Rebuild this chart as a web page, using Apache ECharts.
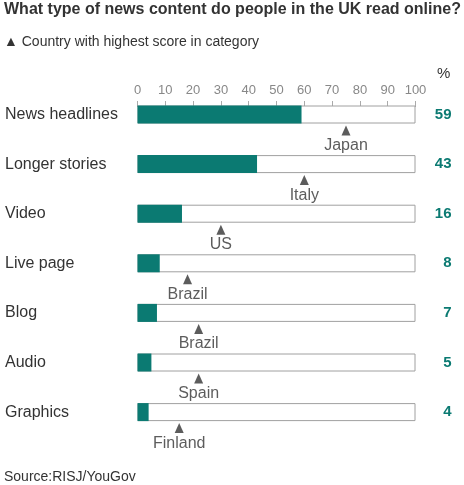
<!DOCTYPE html>
<html><head><meta charset="utf-8">
<script src="https://cdn.jsdelivr.net/npm/echarts@6/dist/echarts.min.js"></script>
<style>html,body{margin:0;padding:0;background:#fff}#c{width:464px;height:485px}</style>
</head><body><div id="c"></div>
<script>
const categories = ['News headlines','Longer stories','Video','Live page','Blog','Audio','Graphics'];
const ukValues = [59,43,16,8,7,5,4];
const topCountries = ['Japan','Italy','US','Brazil','Brazil','Spain','Finland'];
const topScores = [75,60,30,18,22,22,15];
const tickLabels = [0,10,20,30,40,50,60,70,80,90,100];

const TEAL = '#0b7a72';
const chart = echarts.init(document.getElementById('c'), null, {renderer:'canvas'});
const F = 'Liberation Sans, Arial, sans-serif';
chart.setOption({
  animation:false,
  textStyle:{fontFamily:F},
  title:[
    {text:'What type of news content do people in the UK read online?',left:4,top:2,padding:0,
     textStyle:{fontSize:16,fontWeight:'bold',color:'#333',fontFamily:F}},
    {text:'\u25B2 Country with highest score in category',left:4,top:35,padding:0,
     textStyle:{fontSize:14,fontWeight:'normal',color:'#333',fontFamily:F}},
    {text:'Source:RISJ/YouGov',left:4,top:470,padding:0,
     textStyle:{fontSize:14,fontWeight:'normal',color:'#333',fontFamily:F}}
  ],
  graphic:[{type:'text',left:437,top:66,style:{text:'%',fontSize:15,fill:'#333',fontFamily:F}}],
  grid:[
    {left:137.5,right:48.5,top:89.7,height:347.2},
    {left:137.5,right:48.5,top:106,height:1}
  ],
  xAxis:[
    {gridIndex:0,type:'value',min:0,max:100,show:false},
    {gridIndex:1,type:'value',min:0,max:100,interval:10,position:'top',
     axisLine:{show:false},splitLine:{show:false},
     axisTick:{show:true,length:6,lineStyle:{color:'#aaa'}},
     axisLabel:{color:'#888',fontSize:13,margin:9,
       formatter:(v)=>tickLabels.includes(v)?String(v):''}}
  ],
  yAxis:[
    {gridIndex:0,type:'category',data:categories,inverse:true,
     axisLine:{show:false},axisTick:{show:false},splitLine:{show:false},
     axisLabel:{align:'left',margin:132.5,fontSize:16,color:'#333'}},
    {gridIndex:1,type:'value',min:0,max:1,show:false}
  ],
  series:[
    {type:'bar',xAxisIndex:0,yAxisIndex:0,data:categories.map(()=>100),barWidth:18,
     itemStyle:{color:'#fff',borderColor:'#a0a0a0',borderWidth:1},silent:true,
     label:{show:true,position:'right',distance:36,align:'right',
       formatter:(p)=>String(ukValues[p.dataIndex]),
       color:TEAL,fontWeight:'bold',fontSize:15}},
    {type:'bar',xAxisIndex:0,yAxisIndex:0,data:ukValues,barWidth:18,barGap:'-100%',
     itemStyle:{color:TEAL}},
    {type:'scatter',xAxisIndex:0,yAxisIndex:0,
     data:topScores.map((v,i)=>[v,categories[i]]),
     symbol:'triangle',symbolSize:[9,10],symbolOffset:[0,16],
     itemStyle:{color:'#333'},
     label:{show:true,position:'bottom',distance:2,fontSize:16,color:'#333',
       formatter:(p)=>topCountries[p.dataIndex]}}
  ]
});
</script></body></html>
